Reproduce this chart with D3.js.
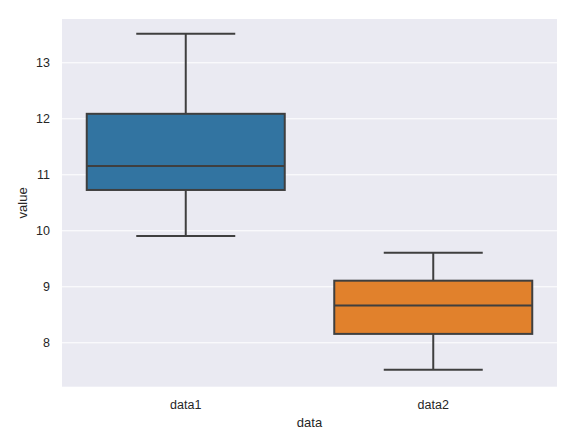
<!DOCTYPE html>
<html><head><meta charset="utf-8">
<script src="https://cdn.jsdelivr.net/npm/d3@7"></script>
<style>
body{margin:0;background:#fff;}
text{font-family:"Liberation Sans",Arial,sans-serif;fill:#262626;}
</style></head>
<body><svg id="c" width="569" height="433"></svg>
<script>
const categories = ["data1", "data2"];
const whiskerLow = [9.90, 7.51];
const q1 = [10.72, 8.15];
const median = [11.15, 8.655];
const q3 = [12.08, 9.10];
const whiskerHigh = [13.51, 9.60];
const colors = ["#3274a1", "#e1812c"];
const yTicks = [8, 9, 10, 11, 12, 13];

const svg = d3.select("#c");
const m = {l:62, r:12, t:19, b:46.3};
const W = 569, H = 433;
const x = d3.scaleBand().domain(categories).range([m.l, W - m.r]).paddingInner(0).paddingOuter(0);
const y = d3.scaleLinear().domain([7.207, 13.773]).range([H - m.b, m.t]);

svg.append("rect").attr("x", m.l).attr("y", m.t).attr("width", W - m.r - m.l).attr("height", H - m.b - m.t).attr("fill", "#eaeaf2");

const yAxis = d3.axisLeft(y).tickValues(yTicks).tickSize(-(W - m.r - m.l)).tickPadding(12).tickFormat(d3.format("d"));
const gy = svg.append("g").attr("transform", `translate(${m.l},0)`).call(yAxis);
gy.select(".domain").remove();
gy.selectAll("line").attr("stroke", "#fff").attr("stroke-width", 1);
gy.selectAll("text").attr("font-size", 12.5).style("fill", "#262626");

const xAxis = d3.axisBottom(x).tickSize(0).tickPadding(13);
const gx = svg.append("g").attr("transform", `translate(0,${H - m.b})`).call(xAxis);
gx.select(".domain").remove();
gx.selectAll("text").attr("font-size", 12.5).style("fill", "#262626");

const data = categories.map((c, i) => ({c, lo: whiskerLow[i], q1: q1[i], med: median[i], q3: q3[i], hi: whiskerHigh[i], col: colors[i]}));
const bw = x.bandwidth() * 0.8;
const stroke = "#3f3f3f", sw = 2;
const g = svg.append("g");
data.forEach(d => {
  const cx = x(d.c) + x.bandwidth() / 2;
  g.append("line").attr("x1", cx).attr("x2", cx).attr("y1", y(d.hi)).attr("y2", y(d.q3)).attr("stroke", stroke).attr("stroke-width", sw);
  g.append("line").attr("x1", cx).attr("x2", cx).attr("y1", y(d.q1)).attr("y2", y(d.lo)).attr("stroke", stroke).attr("stroke-width", sw);
  g.append("line").attr("x1", cx - bw / 4).attr("x2", cx + bw / 4).attr("y1", y(d.hi)).attr("y2", y(d.hi)).attr("stroke", stroke).attr("stroke-width", sw);
  g.append("line").attr("x1", cx - bw / 4).attr("x2", cx + bw / 4).attr("y1", y(d.lo)).attr("y2", y(d.lo)).attr("stroke", stroke).attr("stroke-width", sw);
  g.append("rect").attr("x", cx - bw / 2).attr("width", bw).attr("y", y(d.q3)).attr("height", y(d.q1) - y(d.q3)).attr("fill", d.col).attr("stroke", stroke).attr("stroke-width", sw);
  g.append("line").attr("x1", cx - bw / 2).attr("x2", cx + bw / 2).attr("y1", y(d.med)).attr("y2", y(d.med)).attr("stroke", stroke).attr("stroke-width", sw);
});

svg.append("text").attr("x", (m.l + W - m.r) / 2).attr("y", 427).attr("text-anchor", "middle").attr("font-size", 13).text("data");
svg.append("text").attr("transform", `translate(27,${(m.t + H - m.b) / 2}) rotate(-90)`).attr("text-anchor", "middle").attr("font-size", 13).text("value");
</script></body></html>
